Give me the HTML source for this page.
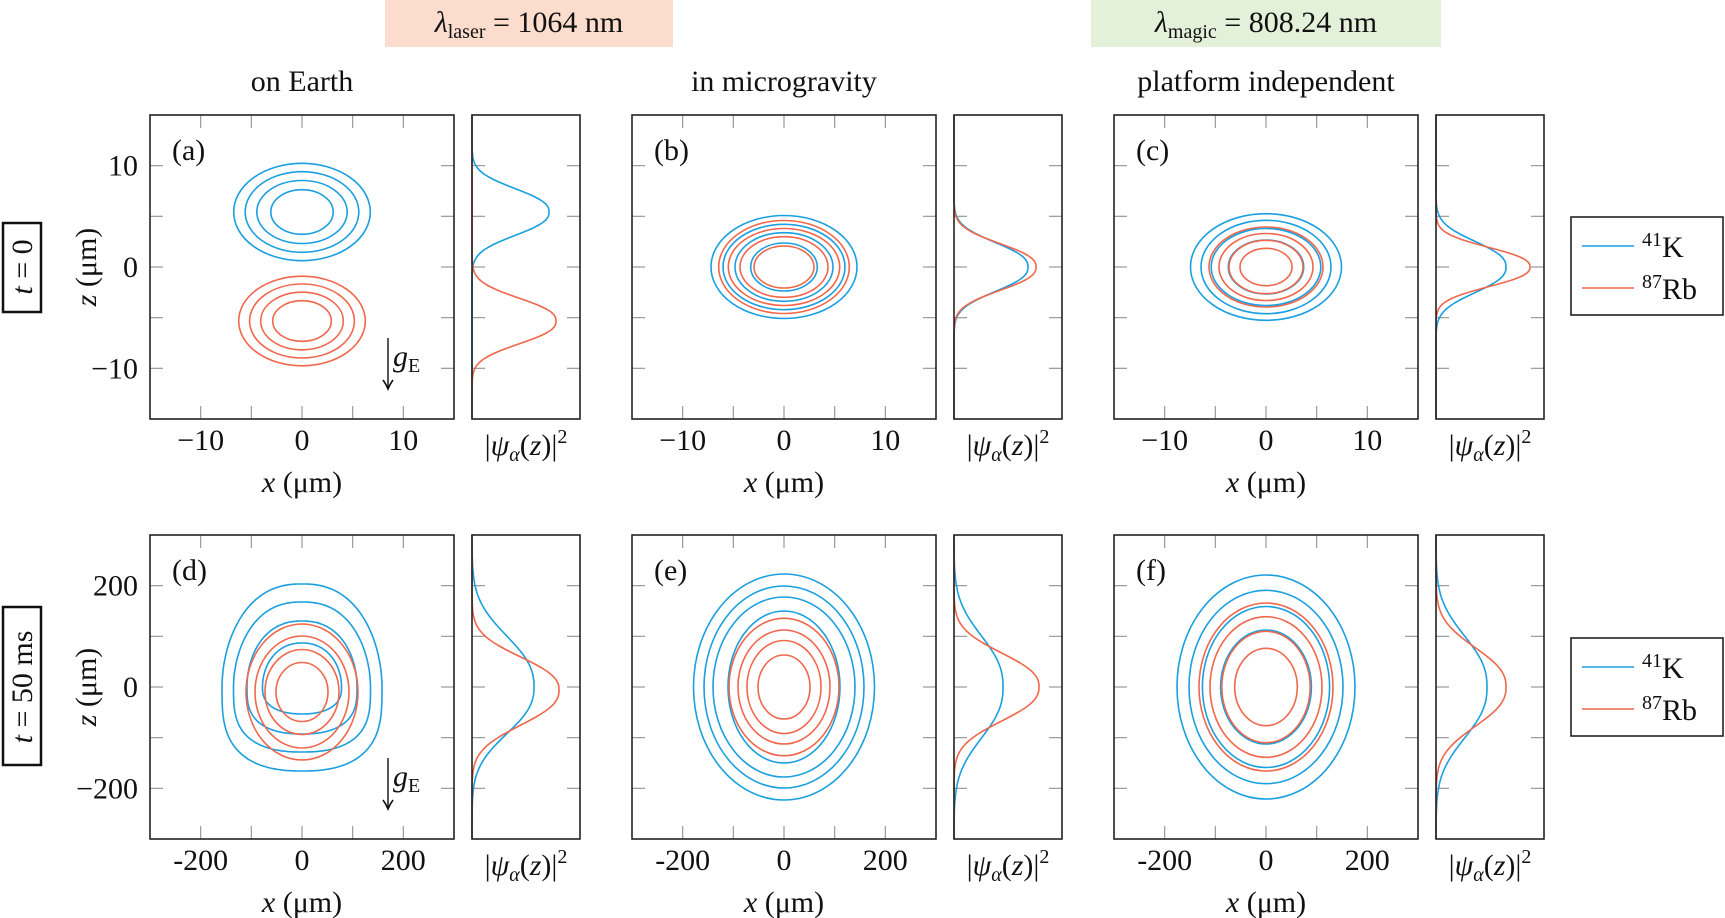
<!DOCTYPE html>
<html><head><meta charset="utf-8"><style>
html,body{margin:0;padding:0;background:#fff}
svg{display:block}
text{font-family:"Liberation Serif",serif;fill:#111}
</style></head><body>
<svg id="s" width="1725" height="918" viewBox="0 0 1725 918" xmlns="http://www.w3.org/2000/svg">
<rect x="385" y="0" width="288" height="47" fill="#fbdccd"/>
<rect x="1091" y="0" width="350" height="47" fill="#e3f0da"/>
<text x="529" y="32" font-size="30" text-anchor="middle"><tspan font-style="italic">λ</tspan><tspan font-size="20" dy="6">laser</tspan><tspan dy="-6"> = 1064 nm</tspan></text>
<text x="1266" y="32" font-size="30" text-anchor="middle"><tspan font-style="italic">λ</tspan><tspan font-size="20" dy="6">magic</tspan><tspan dy="-6"> = 808.24 nm</tspan></text>
<text x="302" y="91" font-size="30" text-anchor="middle">on Earth</text>
<text x="784" y="91" font-size="30" text-anchor="middle">in microgravity</text>
<text x="1266" y="91" font-size="30" text-anchor="middle">platform independent</text>
<rect x="3" y="223" width="38" height="89" fill="none" stroke="#111" stroke-width="2.5"/>
<text transform="translate(32,267) rotate(-90)" font-size="30" text-anchor="middle"><tspan font-style="italic">t</tspan> = 0</text>
<rect x="3" y="607" width="38" height="158" fill="none" stroke="#111" stroke-width="2.5"/>
<text transform="translate(32,687) rotate(-90)" font-size="30" text-anchor="middle"><tspan font-style="italic">t</tspan> = 50 ms</text>
<g id="g"></g>
</svg>
<script>
var B="#1a9fe0",R="#f0674c",G=document.getElementById('g');
var out="";
function ln(x1,y1,x2,y2,c,w){out+='<line x1="'+x1+'" y1="'+y1+'" x2="'+x2+'" y2="'+y2+'" stroke="'+c+'" stroke-width="'+w+'"/>';}
function tx(x,y,s,sz,anc,extra){out+='<text x="'+x+'" y="'+y+'" font-size="'+sz+'" text-anchor="'+anc+'" '+(extra||'')+'>'+s+'</text>';}
function path(d,c){out+='<path d="'+d+'" fill="none" stroke="'+c+'" stroke-width="1.6"/>';}
function ell(cx,cy,rx,ry,c){out+='<ellipse cx="'+cx+'" cy="'+cy+'" rx="'+rx+'" ry="'+ry+'" fill="none" stroke="'+c+'" stroke-width="1.6"/>';}
function shape(cx,cy,a,top,bot,nt,nb,nx,c){var d="";for(var i=0;i<=240;i++){var t=i/240*2*Math.PI,co=Math.cos(t),si=Math.sin(t);var x=cx+a*Math.sign(co)*Math.pow(Math.abs(co),2/nx);var y;if(si<0)y=cy-top*Math.pow(-si,2/nt);else y=cy+bot*Math.pow(si,2/nb);d+=(i?'L':'M')+x.toFixed(1)+' '+y.toFixed(1);}path(d+'Z',c);}
function gauss(x0,yt,yb,cy,amp,s1,s2,c){var d="";for(var y=yt;y<=yb;y+=1){var s=y<cy?s1:s2;var u=Math.abs(y-cy)/s;var x=x0+amp*Math.exp(-Math.pow(u,2.4)/2);d+=(y==yt?'M':'L')+x.toFixed(1)+' '+y;}path(d,c);}
function frame(x,y,w,h){out+='<rect x="'+x+'" y="'+y+'" width="'+w+'" height="'+h+'" fill="none" stroke="#222" stroke-width="1.6"/>';}
var cols=[150,632,1114],sides=[472,954,1436],rows=[115,535];
for(var r=0;r<2;r++){var y0=rows[r],cy=y0+152;
 for(var c=0;c<3;c++){var x0=cols[c],cx=x0+152,sx=sides[c];
  for(var k=-2;k<=2;k++){var o=k*50.67;
   ln(cx+o,y0,cx+o,y0+13,"#999",1.2);ln(cx+o,y0+304,cx+o,y0+291,"#999",1.2);
   ln(x0,cy+o,x0+13,cy+o,"#999",1.2);ln(x0+304,cy+o,x0+291,cy+o,"#999",1.2);
   ln(sx,cy+o,sx+13,cy+o,"#999",1.2);ln(sx+108,cy+o,sx+95,cy+o,"#999",1.2);}
  var lab=r==0?["−10","0","10"]:["-200","0","200"];
  for(var k=-1;k<=1;k++)tx(cx+k*101.3,y0+335,lab[k+1],30,"middle");
  tx(cx,y0+377,'<tspan font-style="italic">x</tspan> (μm)',30,"middle");
  tx(sx+54,y0+340,'|<tspan font-style="italic">ψ</tspan><tspan font-style="italic" font-size="20" dy="6">α</tspan><tspan dy="-6">(</tspan><tspan font-style="italic">z</tspan>)|<tspan font-size="20" dy="-12">2</tspan>',30,"middle");
  tx(x0+22,y0+45,'('+"abcdef"[r*3+c]+')',30,"start");
 }
 var yl=r==0?["10","0","−10"]:["200","0","−200"];
 for(var k=-1;k<=1;k++)tx(138,cy+k*101.3+10,yl[k+1],30,"end");
 out+='<text transform="translate(96,'+cy+') rotate(-90)" font-size="30" text-anchor="middle"><tspan font-style="italic">z</tspan> (μm)</text>';
 var ly=r==0?217:638;
 out+='<rect x="1571" y="'+ly+'" width="152" height="98" fill="none" stroke="#222" stroke-width="1.6"/>';
 ln(1582,ly+29,1634,ly+29,B,1.6);ln(1582,ly+71,1634,ly+71,R,1.6);
 tx(1642,ly+40,'<tspan font-size="20" dy="-11">41</tspan><tspan dy="11">K</tspan>',30,"start");
 tx(1642,ly+82,'<tspan font-size="20" dy="-11">87</tspan><tspan dy="11">Rb</tspan>',30,"start");
}
[[115,338],[535,758]].forEach(function(p){var yb=p[1];ln(388,yb,388,yb+50,"#111",1.4);path('M383 '+(yb+42)+' Q386 '+(yb+46)+' 388 '+(yb+51)+' Q390 '+(yb+46)+' 393 '+(yb+42),"#111");
 tx(393,yb+28,'<tspan font-style="italic">g</tspan><tspan font-size="20" dy="6">E</tspan>',30,"start");});
// a
[[68.3,48.7],[56.8,40.3],[45.2,31.5],[31.2,22.3]].forEach(function(e){ell(302,212,e[0],e[1],B);});
[[63.3,44.8],[52.4,37],[41.3,28.8],[29.3,20.3]].forEach(function(e){ell(302,321,e[0],e[1],R);});
gauss(472,115,419,212,77,22,22,B);gauss(472,115,419,321,84,21.5,21.5,R);
// b
[[73,51.5,B],[65.3,46.5,R],[61,42.7,B],[55.7,38.5,R],[49,34.3,B],[44,30.3,R],[33.3,24,B],[30,21,R]].forEach(function(e){ell(784,267,e[0],e[1],e[2]);});
gauss(954,115,419,267,74,23,23,B);gauss(954,115,419,267,82,22,22,R);
// c
[[75.5,53.3,B],[65,46.7,B],[57,40,R],[54.8,38.5,B],[47,33.5,R],[37.7,27,B],[37,26.7,R],[26,18.7,R]].forEach(function(e){ell(1266,267,e[0],e[1],e[2]);});
gauss(1436,115,419,267,70,24,24,B);gauss(1436,115,419,267,94,18.5,18.5,R);
// d
shape(302,687,80,103,84,1.9,3.2,2.4,B);
shape(302,687,68.5,85,65,1.9,3.2,2.4,B);
shape(302,687,55,66,47,2.0,3,2.3,B);
shape(302,687,39.5,44,27,2.0,2.6,2.2,B);
[[56,68],[47,56],[37,42.5],[26,29.5]].forEach(function(e){ell(302,692,e[0],e[1],R);});
gauss(472,535,839,687,62,48,44,B);gauss(472,535,839,690,87,31,33,R);
// e
[[90.5,113,B],[80,101,B],[71,90,B],[56,76,B],[55,68.7,R],[46,57,R],[37,46.5,R],[26,32,R]].forEach(function(e){ell(784,687,e[0],e[1],e[2]);});
gauss(954,535,839,687,49,48,48,B);gauss(954,535,839,687,85,32,32,R);
// f
[[89,112,B],[77,96.7,B],[67,84,R],[63.6,80.5,B],[56,70.3,R],[45.4,57,B],[44.2,55.7,R],[31.3,38.7,R]].forEach(function(e){ell(1266,687,e[0],e[1],e[2]);});
gauss(1436,535,839,687,51,48,48,B);gauss(1436,535,839,687,70,37,37,R);
for(var r=0;r<2;r++)for(var c=0;c<3;c++){frame(cols[c],rows[r],304,304);frame(sides[c],rows[r],108,304);}
G.innerHTML=out;
</script>
</body></html>
